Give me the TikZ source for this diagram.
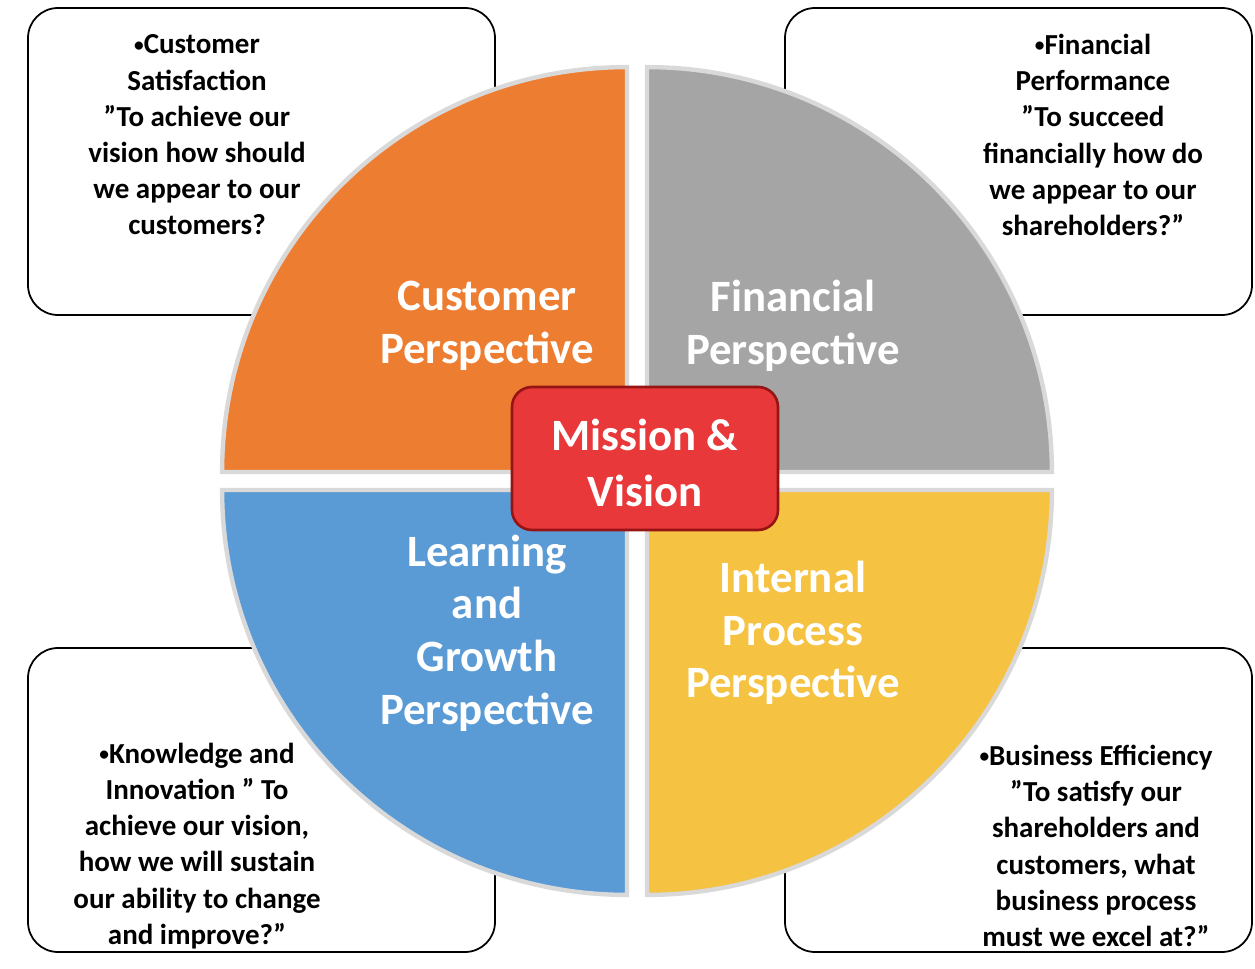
\documentclass[tikz,border=0pt]{standalone}
\usepackage{fontspec}
\setmainfont{Carlito}
\newcommand{\qq}{\symbol{34}}
\newcommand{\bul}{{\fontsize{11}{11}\selectfont\raisebox{1.5pt}{•}}}
\begin{document}
\begin{tikzpicture}[x=0.02cm,y=-0.02cm,
  infobox/.style={draw=black,line width=1pt,rounded corners=0.6cm,fill=white},
  infotext/.style={font=\bfseries\fontsize{16.5}{20.6}\selectfont,align=center,text=black},
  quad/.style={draw=white!85!black,line width=2.5pt},
  quadtext/.style={font=\bfseries\fontsize{25.5}{30}\selectfont,align=center,text=white}]
\useasboundingbox (0,0) rectangle (1255,969);
\fill[white] (0,0) rectangle (1255,969);
% side boxes
\draw[infobox] (28,8) rectangle (495,315);
\draw[infobox] (785,8) rectangle (1252,315);
\draw[infobox] (28,648) rectangle (495,952);
\draw[infobox] (785,648) rectangle (1252,952);
% quadrants
\filldraw[quad,fill={rgb,255:red,237;green,125;blue,49}] (627,472) -- ++(-8.1cm,0) arc[start angle=180,end angle=90,radius=8.1cm] -- cycle;
\filldraw[quad,fill={rgb,255:red,165;green,165;blue,165}] (647,472) -- ++(0,8.1cm) arc[start angle=90,end angle=0,radius=8.1cm] -- cycle;
\filldraw[quad,fill={rgb,255:red,91;green,155;blue,213}] (627,490) -- ++(-8.1cm,0) arc[start angle=180,end angle=270,radius=8.1cm] -- cycle;
\filldraw[quad,fill={rgb,255:red,245;green,194;blue,66}] (647,490) -- ++(8.1cm,0) arc[start angle=0,end angle=-90,radius=8.1cm] -- cycle;
% center
\draw[draw={rgb,255:red,150;green,20;blue,20},line width=1.5pt,rounded corners=0.4cm,fill={rgb,255:red,232;green,56;blue,58}] (512,387) rectangle (778,530);
\node[quadtext,font=\bfseries\fontsize{25.5}{32}\selectfont] (mv) at (645,463) {Mission \&\\Vision};
% quadrant text
\node[quadtext] (cp) at (487,326) {Customer\\Perspective};
\node[quadtext] (fp) at (793,326) {Financial\\Perspective};
\node[quadtext] (lg) at (487,633) {Learning\\and\\Growth\\Perspective};
\node[quadtext] (ip) at (793,633) {Internal\\Process\\Perspective};
% box texts
\node[infotext] (t1) at (197,135) {\bul Customer\\Satisfaction\\\qq To achieve our\\vision how should\\we appear to our\\customers?};
\node[infotext] (t2) at (1093,135) {\bul Financial\\Performance\\\qq To succeed\\financially how do\\we appear to our\\shareholders?\qq};
\node[infotext] (t3) at (197,846) {\bul Knowledge and\\Innovation \qq{} To\\achieve our vision,\\how we will sustain\\our ability to change\\and improve?\qq};
\node[infotext] (t4) at (1096,846) {\bul Business Efficiency\\\qq To satisfy our\\shareholders and\\customers, what\\business process\\must we excel at?\qq};
\end{tikzpicture}
\end{document}
